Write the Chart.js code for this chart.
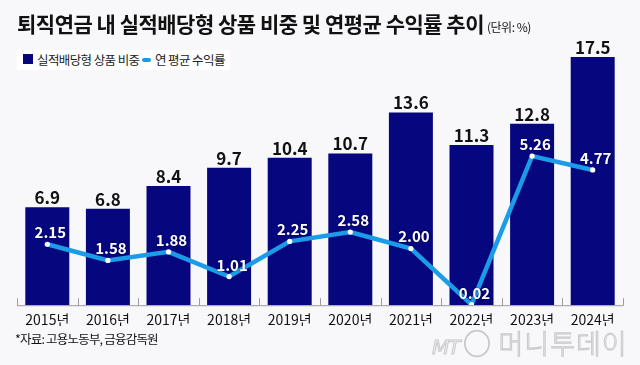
<!DOCTYPE html>
<html><head><meta charset="utf-8">
<script src="https://cdn.jsdelivr.net/npm/chart.js@4/dist/chart.umd.min.js"></script>
<style>
html,body{margin:0;padding:0;background:#f8f8fb;}
#wrap{position:relative;width:640px;height:365px;overflow:hidden;font-family:"Noto Sans CJK KR","Noto Sans",sans-serif;}
canvas{position:absolute;left:0;top:0;}
#title{position:absolute;left:17px;top:10px;font-size:21px;font-weight:700;letter-spacing:-0.5px;color:#111;white-space:nowrap;line-height:26px;}
#title span{font-size:12px;font-weight:400;letter-spacing:-0.5px;margin-left:3px;}
#legend{position:absolute;left:17px;top:50px;width:213px;height:20px;background:#fff;font-size:12.5px;color:#222;letter-spacing:-0.6px;white-space:nowrap;}
#legend .sq{position:absolute;left:6px;top:4px;width:10px;height:10px;background:#06067f;}
#legend .t1{position:absolute;left:20px;top:0;line-height:19px;}
#legend .ln{position:absolute;left:125px;top:7.5px;width:9px;height:4px;border-radius:2px;background:#1b9be8;}
#legend .t2{position:absolute;left:138px;top:0;line-height:19px;}
#src{position:absolute;left:15px;top:329px;font-size:12.5px;letter-spacing:-0.8px;color:#111;white-space:nowrap;}
#wm{position:absolute;left:432px;top:323px;font-size:27px;color:#f2f2f4;-webkit-text-stroke:1px #c9c9cc;white-space:nowrap;letter-spacing:1px;font-weight:300;}
#wm i{font-family:"DejaVu Sans",sans-serif;font-size:20px;letter-spacing:-1px;margin-right:4px;}
</style></head>
<body><div id="wrap">
<canvas id="c" width="640" height="365"></canvas>
<div id="title">퇴직연금 내 실적배당형 상품 비중 및 연평균 수익률 추이<span>(단위: %)</span></div>
<div id="legend"><div class="sq"></div><div class="t1">실적배당형 상품 비중</div><div class="ln"></div><div class="t2">연 평균 수익률</div></div>
<div id="src">*자료: 고용노동부, 금융감독원</div>
<div id="wm"><i>MT</i>◯ 머니투데이</div>
</div>
<script>
const categories = ["2015년","2016년","2017년","2018년","2019년","2020년","2021년","2022년","2023년","2024년"];
const shareValues = [6.9, 6.8, 8.4, 9.7, 10.4, 10.7, 13.6, 11.3, 12.8, 17.5];
const returnValues = [2.15, 1.58, 1.88, 1.01, 2.25, 2.58, 2.00, 0.02, 5.26, 4.77];
const shareLabels = ["6.9","6.8","8.4","9.7","10.4","10.7","13.6","11.3","12.8","17.5"];
const returnLabels = ["2.15","1.58","1.88","1.01","2.25","2.58","2.00","0.02","5.26","4.77"];

const FONT = '"Noto Sans CJK KR","Noto Sans",sans-serif';

const labelPlugin = {
  id: 'labels',
  afterDatasetsDraw(chart) {
    const ctx = chart.ctx;
    const xs = chart.scales.x;
    const area = chart.chartArea;
    ctx.save();
    ctx.strokeStyle = '#9a9aa0';
    ctx.lineWidth = 1;
    ctx.beginPath();
    ctx.moveTo(area.left, area.bottom + 0.5);
    ctx.lineTo(area.right, area.bottom + 0.5);
    const n = categories.length;
    const step = (xs.getPixelForValue(1) - xs.getPixelForValue(0));
    for (let i = 0; i <= n; i++) {
      const x = Math.round(xs.getPixelForValue(0) - step / 2 + i * step) + 0.5;
      ctx.moveTo(x, area.bottom - 7);
      ctx.lineTo(x, area.bottom + 0.5);
    }
    ctx.stroke();
    ctx.restore();

    const barMeta = chart.getDatasetMeta(0);
    const lineMeta = chart.getDatasetMeta(1);
    ctx.save();
    ctx.textAlign = 'center';
    ctx.textBaseline = 'alphabetic';
    ctx.font = 'bold 17px ' + FONT;
    ctx.fillStyle = '#111';
    barMeta.data.forEach((el, i) => {
      ctx.fillText(shareLabels[i], el.x, el.y - 3);
    });
    ctx.font = 'bold 15px ' + FONT;
    ctx.fillStyle = '#fff';
    ctx.shadowColor = 'rgba(0,0,40,0.6)';
    ctx.shadowBlur = 2;
    lineMeta.data.forEach((el, i) => {
      ctx.fillText(returnLabels[i], el.x + 3, el.y - 6);
    });
    ctx.restore();
  }
};

new Chart(document.getElementById('c'), {
  data: {
    labels: categories,
    datasets: [
      {
        type: 'bar',
        label: '실적배당형 상품 비중',
        data: shareValues,
        backgroundColor: '#06067f',
        borderWidth: 0,
        categoryPercentage: 1,
        barPercentage: 0.726,
        yAxisID: 'y',
        order: 1
      },
      {
        type: 'line',
        label: '연 평균 수익률',
        data: returnValues,
        borderColor: '#1b9be8',
        borderWidth: 4.5,
        pointRadius: 2.6,
        pointBackgroundColor: '#ffffff',
        pointBorderWidth: 0,
        tension: 0,
        yAxisID: 'y1',
        order: 0
      }
    ]
  },
  options: {
    responsive: false,
    animation: false,
    devicePixelRatio: 1,
    layout: { padding: { left: 17, right: 17, top: 50, bottom: 39 } },
    plugins: { legend: { display: false }, tooltip: { enabled: false }, title: { display: false } },
    scales: {
      x: {
        offset: true,
        grid: { display: false },
        border: { display: false },
        ticks: { color: '#111', font: { family: FONT, size: 14 }, padding: -2, maxRotation: 0, autoSkip: false }
      },
      y: { display: false, min: 0, max: 18 },
      y1: { display: false, min: 0, max: 9 }
    }
  },
  plugins: [labelPlugin]
});
</script>
</body></html>
